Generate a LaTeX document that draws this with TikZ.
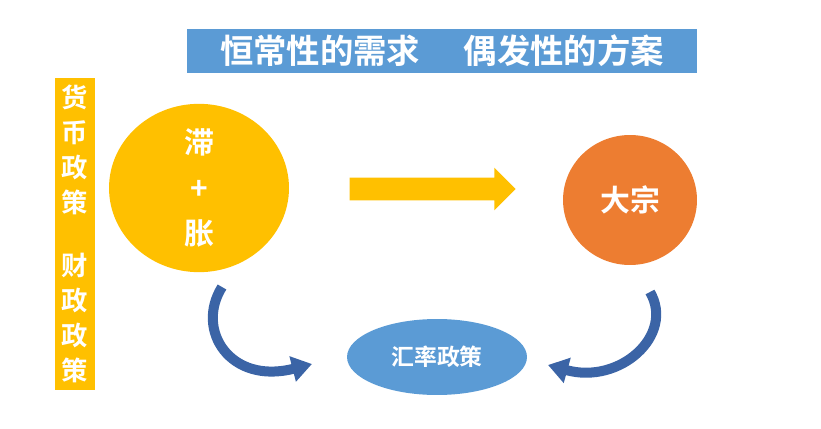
\documentclass[tikz,border=0pt]{standalone}
\usepackage{fontspec}
\setmainfont{Noto Sans CJK SC}[BoldFont={Noto Sans CJK SC Bold}]
\usetikzlibrary{shapes.geometric,shapes.arrows,arrows.meta}
\definecolor{bandeau}{HTML}{5B9BD5}
\definecolor{jaune}{HTML}{FFC000}
\definecolor{orange}{HTML}{ED7D31}
\definecolor{bleu}{HTML}{3B64A6}
\begin{document}
\begin{tikzpicture}[x=0.02cm,y=-0.02cm]
\tikzset{texte/.style={text=white, font=\bfseries}, ovale/.style={ellipse, inner sep=0pt}, courbe/.style={bleu, line width=0.2cm, -{Triangle[width=0.5cm,length=0.4cm]}}}
\useasboundingbox (0,0) rectangle (821,429);
\node[fill=bandeau, minimum width=10.2cm, minimum height=0.86cm, texte, font=\bfseries\fontsize{19}{22}\selectfont] (titre) at (442,51) {恒常性的需求\hspace{1.3em}偶发性的方案};
\node[fill=jaune, minimum width=0.8cm, minimum height=6.24cm, inner sep=0pt, texte, font=\bfseries\fontsize{15}{20}\selectfont, align=center] (gauche) at (75,234) {货\\币\\政\\策\\[0.55cm]财\\政\\政\\策};
\node[ovale, fill=jaune, minimum width=3.6cm, minimum height=3cm, texte, font=\bfseries\fontsize{17}{26}\selectfont, align=center] (stag) at (199,188) {滞\\+\\胀};
\node[ovale, fill=orange, minimum width=2.68cm, minimum height=2.6cm, texte, font=\bfseries\fontsize{17}{20}\selectfont] (bulk) at (630,200) {大宗};
\node[ovale, fill=bandeau, minimum width=3.6cm, minimum height=1.52cm, texte, font=\bfseries\fontsize{13}{16}\selectfont] (change) at (437,357) {汇率政策};
\node[single arrow, fill=jaune, minimum height=3.32cm, inner xsep=0pt, inner ysep=0.22cm, single arrow head extend=0.2cm] (fleche) at (427,189) {};
\coordinate (g1) at (222,287);
\coordinate (g2) at (312,364);
\coordinate (d1) at (650,292);
\coordinate (d2) at (548,365);
\draw[courbe] (g1) .. controls (195,330) and (230,385) .. (g2);
\draw[courbe] (d1) .. controls (675,335) and (620,385) .. (d2);
\end{tikzpicture}
\end{document}
